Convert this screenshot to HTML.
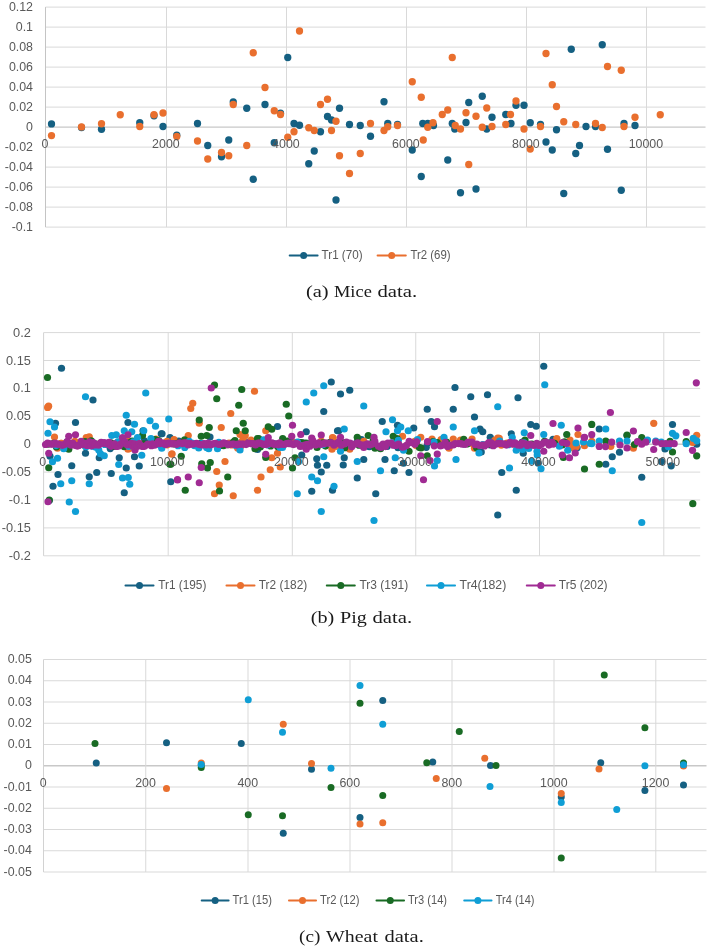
<!DOCTYPE html>
<html><head><meta charset="utf-8"><title>Scatter charts</title>
<style>
html,body{margin:0;padding:0;background:#fff;}
svg{display:block;}
.s{font-family:"Liberation Sans",Arial,sans-serif;}
.r{font-family:"Liberation Serif","Times New Roman",serif;}
</style></head><body>
<svg width="708" height="948" viewBox="0 0 708 948">
<rect width="708" height="948" fill="#fff"/>
<line x1="45.5" y1="7.1" x2="705.5" y2="7.1" stroke="#D9D9D9" stroke-width="1"/>
<line x1="45.5" y1="27.1" x2="705.5" y2="27.1" stroke="#D9D9D9" stroke-width="1"/>
<line x1="45.5" y1="47.1" x2="705.5" y2="47.1" stroke="#D9D9D9" stroke-width="1"/>
<line x1="45.5" y1="67.1" x2="705.5" y2="67.1" stroke="#D9D9D9" stroke-width="1"/>
<line x1="45.5" y1="87.1" x2="705.5" y2="87.1" stroke="#D9D9D9" stroke-width="1"/>
<line x1="45.5" y1="107.1" x2="705.5" y2="107.1" stroke="#D9D9D9" stroke-width="1"/>
<line x1="45.5" y1="127.1" x2="705.5" y2="127.1" stroke="#C8C8C8" stroke-width="1.4"/>
<line x1="45.5" y1="147.1" x2="705.5" y2="147.1" stroke="#D9D9D9" stroke-width="1"/>
<line x1="45.5" y1="167.1" x2="705.5" y2="167.1" stroke="#D9D9D9" stroke-width="1"/>
<line x1="45.5" y1="187.1" x2="705.5" y2="187.1" stroke="#D9D9D9" stroke-width="1"/>
<line x1="45.5" y1="207.1" x2="705.5" y2="207.1" stroke="#D9D9D9" stroke-width="1"/>
<line x1="45.5" y1="227.1" x2="705.5" y2="227.1" stroke="#D9D9D9" stroke-width="1"/>
<line x1="166.5" y1="7.1" x2="166.5" y2="227.1" stroke="#D9D9D9" stroke-width="1"/>
<line x1="286.5" y1="7.1" x2="286.5" y2="227.1" stroke="#D9D9D9" stroke-width="1"/>
<line x1="406.5" y1="7.1" x2="406.5" y2="227.1" stroke="#D9D9D9" stroke-width="1"/>
<line x1="526.5" y1="7.1" x2="526.5" y2="227.1" stroke="#D9D9D9" stroke-width="1"/>
<line x1="646.5" y1="7.1" x2="646.5" y2="227.1" stroke="#D9D9D9" stroke-width="1"/>
<line x1="45.5" y1="7.1" x2="45.5" y2="227.1" stroke="#C4C4C4" stroke-width="1"/>
<text class="s" x="33.0" y="10.8" text-anchor="end" font-size="12.4" fill="#595959">0.12</text>
<text class="s" x="33.0" y="30.8" text-anchor="end" font-size="12.4" fill="#595959">0.1</text>
<text class="s" x="33.0" y="50.800000000000004" text-anchor="end" font-size="12.4" fill="#595959">0.08</text>
<text class="s" x="33.0" y="70.8" text-anchor="end" font-size="12.4" fill="#595959">0.06</text>
<text class="s" x="33.0" y="90.8" text-anchor="end" font-size="12.4" fill="#595959">0.04</text>
<text class="s" x="33.0" y="110.8" text-anchor="end" font-size="12.4" fill="#595959">0.02</text>
<text class="s" x="33.0" y="130.79999999999998" text-anchor="end" font-size="12.4" fill="#595959">0</text>
<text class="s" x="33.0" y="150.79999999999998" text-anchor="end" font-size="12.4" fill="#595959">-0.02</text>
<text class="s" x="33.0" y="170.79999999999998" text-anchor="end" font-size="12.4" fill="#595959">-0.04</text>
<text class="s" x="33.0" y="190.79999999999998" text-anchor="end" font-size="12.4" fill="#595959">-0.06</text>
<text class="s" x="33.0" y="210.79999999999998" text-anchor="end" font-size="12.4" fill="#595959">-0.08</text>
<text class="s" x="33.0" y="230.79999999999998" text-anchor="end" font-size="12.4" fill="#595959">-0.1</text>
<g fill="#156082"><circle cx="51.50" cy="123.90" r="3.65"/><circle cx="81.50" cy="127.50" r="3.65"/><circle cx="101.50" cy="129.25" r="3.65"/><circle cx="139.75" cy="122.75" r="3.65"/><circle cx="154.00" cy="115.75" r="3.65"/><circle cx="163.00" cy="126.50" r="3.65"/><circle cx="176.75" cy="135.25" r="3.65"/><circle cx="197.50" cy="123.50" r="3.65"/><circle cx="207.75" cy="145.50" r="3.65"/><circle cx="221.50" cy="156.75" r="3.65"/><circle cx="228.75" cy="140.00" r="3.65"/><circle cx="233.25" cy="102.00" r="3.65"/><circle cx="246.75" cy="108.25" r="3.65"/><circle cx="253.25" cy="179.25" r="3.65"/><circle cx="265.00" cy="104.50" r="3.65"/><circle cx="274.25" cy="142.75" r="3.65"/><circle cx="280.50" cy="113.25" r="3.65"/><circle cx="287.75" cy="57.50" r="3.65"/><circle cx="294.00" cy="123.50" r="3.65"/><circle cx="299.50" cy="125.25" r="3.65"/><circle cx="308.75" cy="163.75" r="3.65"/><circle cx="314.25" cy="151.00" r="3.65"/><circle cx="320.50" cy="131.75" r="3.65"/><circle cx="327.50" cy="116.50" r="3.65"/><circle cx="331.50" cy="120.00" r="3.65"/><circle cx="336.00" cy="200.00" r="3.65"/><circle cx="339.50" cy="108.25" r="3.65"/><circle cx="349.50" cy="124.50" r="3.65"/><circle cx="360.25" cy="125.50" r="3.65"/><circle cx="370.50" cy="136.25" r="3.65"/><circle cx="384.00" cy="101.75" r="3.65"/><circle cx="387.75" cy="123.50" r="3.65"/><circle cx="397.50" cy="124.50" r="3.65"/><circle cx="412.25" cy="150.00" r="3.65"/><circle cx="421.25" cy="176.50" r="3.65"/><circle cx="422.75" cy="123.50" r="3.65"/><circle cx="427.75" cy="123.50" r="3.65"/><circle cx="433.50" cy="125.50" r="3.65"/><circle cx="447.75" cy="160.00" r="3.65"/><circle cx="452.25" cy="123.50" r="3.65"/><circle cx="454.75" cy="129.00" r="3.65"/><circle cx="460.50" cy="192.75" r="3.65"/><circle cx="466.00" cy="122.50" r="3.65"/><circle cx="468.75" cy="102.50" r="3.65"/><circle cx="476.00" cy="189.00" r="3.65"/><circle cx="482.25" cy="96.25" r="3.65"/><circle cx="486.75" cy="129.00" r="3.65"/><circle cx="492.00" cy="117.25" r="3.65"/><circle cx="505.75" cy="114.50" r="3.65"/><circle cx="511.00" cy="123.50" r="3.65"/><circle cx="516.00" cy="105.25" r="3.65"/><circle cx="524.00" cy="105.25" r="3.65"/><circle cx="530.25" cy="122.75" r="3.65"/><circle cx="540.50" cy="124.50" r="3.65"/><circle cx="546.00" cy="142.00" r="3.65"/><circle cx="552.25" cy="150.00" r="3.65"/><circle cx="556.50" cy="129.75" r="3.65"/><circle cx="563.75" cy="193.50" r="3.65"/><circle cx="571.25" cy="49.25" r="3.65"/><circle cx="575.75" cy="153.50" r="3.65"/><circle cx="579.50" cy="145.50" r="3.65"/><circle cx="586.00" cy="126.50" r="3.65"/><circle cx="595.50" cy="126.50" r="3.65"/><circle cx="602.25" cy="44.75" r="3.65"/><circle cx="607.50" cy="149.25" r="3.65"/><circle cx="621.25" cy="190.25" r="3.65"/><circle cx="624.00" cy="123.50" r="3.65"/><circle cx="635.00" cy="125.50" r="3.65"/></g>
<g fill="#E96F2E"><circle cx="51.50" cy="135.60" r="3.65"/><circle cx="81.50" cy="126.90" r="3.65"/><circle cx="101.50" cy="123.75" r="3.65"/><circle cx="120.25" cy="114.75" r="3.65"/><circle cx="139.75" cy="126.50" r="3.65"/><circle cx="154.00" cy="114.75" r="3.65"/><circle cx="163.00" cy="113.00" r="3.65"/><circle cx="176.75" cy="136.50" r="3.65"/><circle cx="197.50" cy="141.00" r="3.65"/><circle cx="207.75" cy="159.00" r="3.65"/><circle cx="221.50" cy="152.50" r="3.65"/><circle cx="228.75" cy="155.75" r="3.65"/><circle cx="233.25" cy="104.50" r="3.65"/><circle cx="246.75" cy="145.50" r="3.65"/><circle cx="253.25" cy="52.75" r="3.65"/><circle cx="265.00" cy="87.50" r="3.65"/><circle cx="274.25" cy="110.75" r="3.65"/><circle cx="280.50" cy="114.50" r="3.65"/><circle cx="287.75" cy="137.25" r="3.65"/><circle cx="294.00" cy="131.75" r="3.65"/><circle cx="299.50" cy="31.00" r="3.65"/><circle cx="308.75" cy="127.75" r="3.65"/><circle cx="314.25" cy="130.50" r="3.65"/><circle cx="320.50" cy="104.50" r="3.65"/><circle cx="327.50" cy="99.25" r="3.65"/><circle cx="331.50" cy="130.50" r="3.65"/><circle cx="336.00" cy="121.25" r="3.65"/><circle cx="339.50" cy="155.75" r="3.65"/><circle cx="349.50" cy="173.50" r="3.65"/><circle cx="360.25" cy="153.50" r="3.65"/><circle cx="370.50" cy="123.50" r="3.65"/><circle cx="384.00" cy="130.50" r="3.65"/><circle cx="387.75" cy="126.75" r="3.65"/><circle cx="397.50" cy="125.50" r="3.65"/><circle cx="412.25" cy="81.75" r="3.65"/><circle cx="421.25" cy="97.25" r="3.65"/><circle cx="423.25" cy="140.00" r="3.65"/><circle cx="427.75" cy="127.25" r="3.65"/><circle cx="433.00" cy="122.75" r="3.65"/><circle cx="442.25" cy="114.50" r="3.65"/><circle cx="447.75" cy="110.00" r="3.65"/><circle cx="452.25" cy="57.50" r="3.65"/><circle cx="455.25" cy="125.50" r="3.65"/><circle cx="460.50" cy="129.00" r="3.65"/><circle cx="466.00" cy="112.75" r="3.65"/><circle cx="468.75" cy="164.50" r="3.65"/><circle cx="476.00" cy="116.25" r="3.65"/><circle cx="482.25" cy="127.25" r="3.65"/><circle cx="486.75" cy="108.00" r="3.65"/><circle cx="492.00" cy="126.50" r="3.65"/><circle cx="505.75" cy="124.50" r="3.65"/><circle cx="510.50" cy="114.50" r="3.65"/><circle cx="516.00" cy="101.00" r="3.65"/><circle cx="524.00" cy="129.00" r="3.65"/><circle cx="530.25" cy="149.00" r="3.65"/><circle cx="540.50" cy="126.50" r="3.65"/><circle cx="546.00" cy="53.50" r="3.65"/><circle cx="552.25" cy="84.75" r="3.65"/><circle cx="556.50" cy="106.50" r="3.65"/><circle cx="563.75" cy="121.75" r="3.65"/><circle cx="575.75" cy="124.50" r="3.65"/><circle cx="595.50" cy="123.50" r="3.65"/><circle cx="602.25" cy="127.50" r="3.65"/><circle cx="607.50" cy="66.50" r="3.65"/><circle cx="621.25" cy="70.25" r="3.65"/><circle cx="624.00" cy="126.50" r="3.65"/><circle cx="635.00" cy="117.25" r="3.65"/><circle cx="660.25" cy="114.75" r="3.65"/></g>
<text class="s" x="44.9" y="148.4" text-anchor="middle" font-size="12.4" fill="#595959">0</text>
<text class="s" x="165.9" y="148.4" text-anchor="middle" font-size="12.4" fill="#595959">2000</text>
<text class="s" x="285.9" y="148.4" text-anchor="middle" font-size="12.4" fill="#595959">4000</text>
<text class="s" x="405.9" y="148.4" text-anchor="middle" font-size="12.4" fill="#595959">6000</text>
<text class="s" x="525.9" y="148.4" text-anchor="middle" font-size="12.4" fill="#595959">8000</text>
<text class="s" x="645.9" y="148.4" text-anchor="middle" font-size="12.4" fill="#595959">10000</text>
<line x1="289.59999999999997" y1="255.5" x2="317.70000000000005" y2="255.5" stroke="#156082" stroke-width="1.8" stroke-linecap="round"/>
<circle cx="303.65" cy="255.5" r="3.5" fill="#156082"/>
<text class="s" x="321.6" y="258.9" text-anchor="start" font-size="12.4" fill="#595959" textLength="41.0" lengthAdjust="spacingAndGlyphs">Tr1 (70)</text>
<line x1="377.5" y1="255.5" x2="405.90000000000003" y2="255.5" stroke="#E96F2E" stroke-width="1.8" stroke-linecap="round"/>
<circle cx="391.70000000000005" cy="255.5" r="3.5" fill="#E96F2E"/>
<text class="s" x="410.4" y="258.9" text-anchor="start" font-size="12.4" fill="#595959" textLength="40.2" lengthAdjust="spacingAndGlyphs">Tr2 (69)</text>
<text class="r" y="296.9" font-size="17" fill="#1a1a1a"><tspan x="305.9" textLength="22.7" lengthAdjust="spacingAndGlyphs">(a)</tspan> <tspan x="334.0" textLength="37.8" lengthAdjust="spacingAndGlyphs">Mice</tspan> <tspan x="377.5" textLength="39.7" lengthAdjust="spacingAndGlyphs">data.</tspan></text>
<line x1="43.6" y1="332.6" x2="700.2" y2="332.6" stroke="#D9D9D9" stroke-width="1"/>
<line x1="43.6" y1="360.5" x2="700.2" y2="360.5" stroke="#D9D9D9" stroke-width="1"/>
<line x1="43.6" y1="388.4" x2="700.2" y2="388.4" stroke="#D9D9D9" stroke-width="1"/>
<line x1="43.6" y1="416.3" x2="700.2" y2="416.3" stroke="#D9D9D9" stroke-width="1"/>
<line x1="43.6" y1="444.2" x2="700.2" y2="444.2" stroke="#C8C8C8" stroke-width="1.4"/>
<line x1="43.6" y1="472.1" x2="700.2" y2="472.1" stroke="#D9D9D9" stroke-width="1"/>
<line x1="43.6" y1="500.0" x2="700.2" y2="500.0" stroke="#D9D9D9" stroke-width="1"/>
<line x1="43.6" y1="527.9" x2="700.2" y2="527.9" stroke="#D9D9D9" stroke-width="1"/>
<line x1="43.6" y1="555.8" x2="700.2" y2="555.8" stroke="#D9D9D9" stroke-width="1"/>
<line x1="168.2" y1="332.6" x2="168.2" y2="555.8" stroke="#D9D9D9" stroke-width="1"/>
<line x1="292.3" y1="332.6" x2="292.3" y2="555.8" stroke="#D9D9D9" stroke-width="1"/>
<line x1="415.75" y1="332.6" x2="415.75" y2="555.8" stroke="#D9D9D9" stroke-width="1"/>
<line x1="539.5" y1="332.6" x2="539.5" y2="555.8" stroke="#D9D9D9" stroke-width="1"/>
<line x1="663.8" y1="332.6" x2="663.8" y2="555.8" stroke="#D9D9D9" stroke-width="1"/>
<line x1="43.6" y1="332.6" x2="43.6" y2="555.8" stroke="#D2D2D2" stroke-width="1"/>
<text class="s" x="30.9" y="336.6" text-anchor="end" font-size="12.8" fill="#595959">0.2</text>
<text class="s" x="30.9" y="364.5" text-anchor="end" font-size="12.8" fill="#595959">0.15</text>
<text class="s" x="30.9" y="392.4" text-anchor="end" font-size="12.8" fill="#595959">0.1</text>
<text class="s" x="30.9" y="420.3" text-anchor="end" font-size="12.8" fill="#595959">0.05</text>
<text class="s" x="30.9" y="448.2" text-anchor="end" font-size="12.8" fill="#595959">0</text>
<text class="s" x="30.9" y="476.1" text-anchor="end" font-size="12.8" fill="#595959">-0.05</text>
<text class="s" x="30.9" y="504.0" text-anchor="end" font-size="12.8" fill="#595959">-0.1</text>
<text class="s" x="30.9" y="531.9" text-anchor="end" font-size="12.8" fill="#595959">-0.15</text>
<text class="s" x="30.9" y="559.8" text-anchor="end" font-size="12.8" fill="#595959">-0.2</text>
<g fill="#156082"><circle cx="61.50" cy="368.25" r="3.6"/><circle cx="93.00" cy="400.00" r="3.6"/><circle cx="55.50" cy="423.25" r="3.6"/><circle cx="75.50" cy="422.50" r="3.6"/><circle cx="128.00" cy="422.50" r="3.6"/><circle cx="161.25" cy="433.75" r="3.6"/><circle cx="85.50" cy="453.25" r="3.6"/><circle cx="99.25" cy="457.75" r="3.6"/><circle cx="119.25" cy="457.75" r="3.6"/><circle cx="134.50" cy="456.75" r="3.6"/><circle cx="50.00" cy="456.25" r="3.6"/><circle cx="71.75" cy="465.75" r="3.6"/><circle cx="58.00" cy="474.50" r="3.6"/><circle cx="89.25" cy="476.75" r="3.6"/><circle cx="96.75" cy="472.50" r="3.6"/><circle cx="111.25" cy="473.50" r="3.6"/><circle cx="126.25" cy="468.00" r="3.6"/><circle cx="139.25" cy="466.00" r="3.6"/><circle cx="53.00" cy="486.25" r="3.6"/><circle cx="124.25" cy="492.75" r="3.6"/><circle cx="170.75" cy="481.75" r="3.6"/><circle cx="49.25" cy="500.50" r="3.6"/><circle cx="143.00" cy="430.75" r="3.6"/><circle cx="331.25" cy="382.00" r="3.6"/><circle cx="323.75" cy="411.50" r="3.6"/><circle cx="277.50" cy="426.50" r="3.6"/><circle cx="306.25" cy="431.75" r="3.6"/><circle cx="162.00" cy="433.75" r="3.6"/><circle cx="170.00" cy="437.50" r="3.6"/><circle cx="301.75" cy="455.00" r="3.6"/><circle cx="316.75" cy="458.75" r="3.6"/><circle cx="317.50" cy="465.25" r="3.6"/><circle cx="321.25" cy="472.00" r="3.6"/><circle cx="326.75" cy="465.25" r="3.6"/><circle cx="311.75" cy="491.25" r="3.6"/><circle cx="332.50" cy="490.25" r="3.6"/><circle cx="337.50" cy="430.75" r="3.6"/><circle cx="210.00" cy="437.00" r="3.6"/><circle cx="257.50" cy="449.50" r="3.6"/><circle cx="340.50" cy="394.00" r="3.6"/><circle cx="349.75" cy="390.25" r="3.6"/><circle cx="382.25" cy="421.50" r="3.6"/><circle cx="397.50" cy="425.25" r="3.6"/><circle cx="413.75" cy="428.00" r="3.6"/><circle cx="427.25" cy="409.25" r="3.6"/><circle cx="431.25" cy="421.50" r="3.6"/><circle cx="434.50" cy="426.75" r="3.6"/><circle cx="453.25" cy="409.25" r="3.6"/><circle cx="455.00" cy="387.50" r="3.6"/><circle cx="470.75" cy="396.75" r="3.6"/><circle cx="474.50" cy="417.00" r="3.6"/><circle cx="487.50" cy="394.75" r="3.6"/><circle cx="480.00" cy="429.00" r="3.6"/><circle cx="482.75" cy="431.75" r="3.6"/><circle cx="490.25" cy="437.25" r="3.6"/><circle cx="338.75" cy="430.75" r="3.6"/><circle cx="344.25" cy="457.75" r="3.6"/><circle cx="343.25" cy="465.00" r="3.6"/><circle cx="363.75" cy="459.50" r="3.6"/><circle cx="385.00" cy="459.50" r="3.6"/><circle cx="357.25" cy="478.00" r="3.6"/><circle cx="394.25" cy="470.75" r="3.6"/><circle cx="403.50" cy="463.25" r="3.6"/><circle cx="409.00" cy="472.50" r="3.6"/><circle cx="375.75" cy="493.75" r="3.6"/><circle cx="497.75" cy="515.00" r="3.6"/><circle cx="501.75" cy="472.50" r="3.6"/><circle cx="481.25" cy="452.00" r="3.6"/><circle cx="543.75" cy="366.25" r="3.6"/><circle cx="518.00" cy="397.75" r="3.6"/><circle cx="530.75" cy="424.50" r="3.6"/><circle cx="536.25" cy="426.25" r="3.6"/><circle cx="599.25" cy="429.00" r="3.6"/><circle cx="511.25" cy="433.75" r="3.6"/><circle cx="627.00" cy="435.50" r="3.6"/><circle cx="553.00" cy="439.25" r="3.6"/><circle cx="516.25" cy="490.25" r="3.6"/><circle cx="538.25" cy="463.25" r="3.6"/><circle cx="523.25" cy="453.25" r="3.6"/><circle cx="612.25" cy="456.75" r="3.6"/><circle cx="619.50" cy="452.25" r="3.6"/><circle cx="605.75" cy="464.25" r="3.6"/><circle cx="641.75" cy="477.25" r="3.6"/><circle cx="661.50" cy="461.60" r="3.6"/><circle cx="665.00" cy="449.00" r="3.6"/><circle cx="672.50" cy="424.50" r="3.6"/><circle cx="671.20" cy="465.80" r="3.6"/><circle cx="696.70" cy="444.20" r="3.6"/><circle cx="222.17" cy="445.46" r="3.6"/><circle cx="85.41" cy="446.19" r="3.6"/><circle cx="337.52" cy="443.09" r="3.6"/><circle cx="322.05" cy="444.17" r="3.6"/><circle cx="66.40" cy="442.83" r="3.6"/><circle cx="95.35" cy="443.94" r="3.6"/><circle cx="276.94" cy="444.13" r="3.6"/><circle cx="167.44" cy="442.60" r="3.6"/><circle cx="387.32" cy="446.33" r="3.6"/><circle cx="261.79" cy="442.67" r="3.6"/><circle cx="577.08" cy="447.77" r="3.6"/><circle cx="203.55" cy="444.86" r="3.6"/><circle cx="124.47" cy="445.00" r="3.6"/><circle cx="489.97" cy="444.87" r="3.6"/><circle cx="144.32" cy="440.86" r="3.6"/><circle cx="248.58" cy="442.06" r="3.6"/><circle cx="343.97" cy="444.31" r="3.6"/><circle cx="158.04" cy="443.90" r="3.6"/><circle cx="416.14" cy="441.88" r="3.6"/><circle cx="364.55" cy="444.44" r="3.6"/><circle cx="292.53" cy="442.40" r="3.6"/><circle cx="426.25" cy="447.32" r="3.6"/><circle cx="178.79" cy="441.20" r="3.6"/><circle cx="522.07" cy="442.39" r="3.6"/><circle cx="442.82" cy="442.15" r="3.6"/><circle cx="110.23" cy="448.60" r="3.6"/><circle cx="273.46" cy="443.66" r="3.6"/><circle cx="312.00" cy="442.34" r="3.6"/><circle cx="67.33" cy="441.76" r="3.6"/><circle cx="357.73" cy="440.34" r="3.6"/><circle cx="522.26" cy="442.28" r="3.6"/><circle cx="369.34" cy="446.72" r="3.6"/><circle cx="361.46" cy="439.55" r="3.6"/><circle cx="559.91" cy="444.74" r="3.6"/><circle cx="303.91" cy="443.20" r="3.6"/><circle cx="427.61" cy="442.93" r="3.6"/><circle cx="398.04" cy="447.68" r="3.6"/><circle cx="200.82" cy="443.42" r="3.6"/><circle cx="255.87" cy="443.37" r="3.6"/><circle cx="297.16" cy="443.19" r="3.6"/><circle cx="137.42" cy="444.17" r="3.6"/><circle cx="463.92" cy="444.11" r="3.6"/><circle cx="116.36" cy="443.63" r="3.6"/><circle cx="520.05" cy="445.79" r="3.6"/><circle cx="89.84" cy="440.96" r="3.6"/></g>
<g fill="#E96F2E"><circle cx="47.60" cy="407.40" r="3.6"/><circle cx="48.60" cy="406.20" r="3.6"/><circle cx="54.50" cy="437.00" r="3.6"/><circle cx="86.25" cy="437.50" r="3.6"/><circle cx="89.25" cy="436.75" r="3.6"/><circle cx="57.50" cy="448.25" r="3.6"/><circle cx="128.00" cy="449.25" r="3.6"/><circle cx="172.00" cy="453.75" r="3.6"/><circle cx="115.00" cy="444.00" r="3.6"/><circle cx="156.00" cy="439.00" r="3.6"/><circle cx="254.50" cy="391.25" r="3.6"/><circle cx="192.75" cy="403.25" r="3.6"/><circle cx="190.75" cy="408.50" r="3.6"/><circle cx="230.75" cy="413.50" r="3.6"/><circle cx="199.25" cy="423.25" r="3.6"/><circle cx="221.25" cy="427.50" r="3.6"/><circle cx="265.75" cy="430.75" r="3.6"/><circle cx="188.25" cy="435.50" r="3.6"/><circle cx="240.00" cy="434.50" r="3.6"/><circle cx="245.25" cy="435.50" r="3.6"/><circle cx="171.75" cy="454.25" r="3.6"/><circle cx="225.00" cy="461.50" r="3.6"/><circle cx="216.75" cy="471.50" r="3.6"/><circle cx="219.25" cy="485.00" r="3.6"/><circle cx="214.50" cy="493.75" r="3.6"/><circle cx="233.25" cy="495.75" r="3.6"/><circle cx="257.50" cy="490.25" r="3.6"/><circle cx="261.00" cy="477.00" r="3.6"/><circle cx="270.25" cy="469.75" r="3.6"/><circle cx="280.25" cy="467.00" r="3.6"/><circle cx="277.50" cy="453.25" r="3.6"/><circle cx="271.75" cy="457.75" r="3.6"/><circle cx="332.50" cy="437.50" r="3.6"/><circle cx="332.00" cy="449.25" r="3.6"/><circle cx="174.00" cy="439.50" r="3.6"/><circle cx="251.00" cy="440.00" r="3.6"/><circle cx="333.25" cy="438.00" r="3.6"/><circle cx="349.75" cy="449.25" r="3.6"/><circle cx="402.50" cy="436.25" r="3.6"/><circle cx="420.75" cy="437.25" r="3.6"/><circle cx="432.00" cy="439.00" r="3.6"/><circle cx="453.25" cy="439.00" r="3.6"/><circle cx="460.50" cy="440.00" r="3.6"/><circle cx="449.00" cy="448.25" r="3.6"/><circle cx="497.75" cy="438.00" r="3.6"/><circle cx="474.50" cy="448.25" r="3.6"/><circle cx="363.75" cy="441.25" r="3.6"/><circle cx="653.75" cy="423.30" r="3.6"/><circle cx="578.00" cy="434.50" r="3.6"/><circle cx="499.25" cy="438.25" r="3.6"/><circle cx="584.50" cy="445.75" r="3.6"/><circle cx="591.75" cy="441.30" r="3.6"/><circle cx="633.40" cy="448.20" r="3.6"/><circle cx="570.00" cy="440.00" r="3.6"/><circle cx="696.70" cy="435.30" r="3.6"/><circle cx="610.80" cy="446.30" r="3.6"/><circle cx="692.50" cy="442.50" r="3.6"/><circle cx="517.73" cy="444.51" r="3.6"/><circle cx="483.50" cy="444.82" r="3.6"/><circle cx="267.77" cy="442.20" r="3.6"/><circle cx="237.58" cy="447.92" r="3.6"/><circle cx="126.59" cy="439.75" r="3.6"/><circle cx="140.10" cy="443.79" r="3.6"/><circle cx="304.97" cy="445.27" r="3.6"/><circle cx="360.59" cy="443.58" r="3.6"/><circle cx="269.72" cy="443.81" r="3.6"/><circle cx="243.18" cy="438.60" r="3.6"/><circle cx="414.72" cy="441.30" r="3.6"/><circle cx="321.27" cy="441.05" r="3.6"/><circle cx="74.83" cy="441.27" r="3.6"/><circle cx="526.35" cy="444.48" r="3.6"/><circle cx="472.06" cy="439.00" r="3.6"/><circle cx="255.53" cy="442.73" r="3.6"/><circle cx="384.71" cy="444.24" r="3.6"/><circle cx="79.24" cy="445.04" r="3.6"/><circle cx="132.67" cy="444.25" r="3.6"/><circle cx="227.59" cy="443.65" r="3.6"/><circle cx="126.78" cy="443.62" r="3.6"/><circle cx="100.18" cy="443.26" r="3.6"/><circle cx="512.89" cy="444.00" r="3.6"/><circle cx="373.91" cy="444.64" r="3.6"/><circle cx="231.51" cy="445.01" r="3.6"/><circle cx="240.46" cy="446.80" r="3.6"/><circle cx="576.32" cy="446.72" r="3.6"/><circle cx="294.84" cy="442.63" r="3.6"/><circle cx="100.57" cy="443.70" r="3.6"/><circle cx="228.97" cy="443.20" r="3.6"/><circle cx="132.21" cy="447.90" r="3.6"/><circle cx="58.33" cy="446.29" r="3.6"/><circle cx="124.29" cy="442.75" r="3.6"/><circle cx="336.05" cy="446.38" r="3.6"/><circle cx="568.52" cy="444.08" r="3.6"/><circle cx="507.02" cy="443.01" r="3.6"/><circle cx="241.82" cy="441.91" r="3.6"/><circle cx="135.20" cy="443.99" r="3.6"/><circle cx="462.02" cy="440.79" r="3.6"/><circle cx="222.04" cy="444.31" r="3.6"/><circle cx="571.95" cy="447.74" r="3.6"/><circle cx="501.30" cy="445.07" r="3.6"/><circle cx="441.09" cy="439.61" r="3.6"/><circle cx="167.08" cy="441.46" r="3.6"/><circle cx="61.48" cy="443.36" r="3.6"/><circle cx="60.92" cy="443.27" r="3.6"/><circle cx="415.81" cy="445.35" r="3.6"/><circle cx="556.78" cy="438.60" r="3.6"/><circle cx="573.61" cy="445.36" r="3.6"/><circle cx="555.97" cy="442.53" r="3.6"/><circle cx="167.14" cy="444.82" r="3.6"/><circle cx="151.04" cy="444.51" r="3.6"/><circle cx="526.76" cy="446.69" r="3.6"/><circle cx="494.79" cy="440.28" r="3.6"/><circle cx="473.01" cy="444.03" r="3.6"/></g>
<g fill="#196B24"><circle cx="47.50" cy="377.50" r="3.6"/><circle cx="48.75" cy="467.75" r="3.6"/><circle cx="49.25" cy="500.00" r="3.6"/><circle cx="170.75" cy="464.25" r="3.6"/><circle cx="142.50" cy="435.50" r="3.6"/><circle cx="68.75" cy="449.25" r="3.6"/><circle cx="155.00" cy="439.50" r="3.6"/><circle cx="214.50" cy="385.00" r="3.6"/><circle cx="241.75" cy="389.50" r="3.6"/><circle cx="216.75" cy="398.75" r="3.6"/><circle cx="238.75" cy="405.25" r="3.6"/><circle cx="286.25" cy="404.25" r="3.6"/><circle cx="288.75" cy="416.00" r="3.6"/><circle cx="199.25" cy="420.00" r="3.6"/><circle cx="209.25" cy="427.50" r="3.6"/><circle cx="243.25" cy="423.25" r="3.6"/><circle cx="236.25" cy="430.75" r="3.6"/><circle cx="245.25" cy="430.75" r="3.6"/><circle cx="268.25" cy="426.75" r="3.6"/><circle cx="271.75" cy="429.25" r="3.6"/><circle cx="201.25" cy="436.25" r="3.6"/><circle cx="206.75" cy="435.50" r="3.6"/><circle cx="181.25" cy="456.25" r="3.6"/><circle cx="170.00" cy="464.25" r="3.6"/><circle cx="201.75" cy="463.75" r="3.6"/><circle cx="210.25" cy="462.50" r="3.6"/><circle cx="207.50" cy="468.00" r="3.6"/><circle cx="227.75" cy="477.00" r="3.6"/><circle cx="185.25" cy="490.25" r="3.6"/><circle cx="219.50" cy="491.00" r="3.6"/><circle cx="292.50" cy="468.00" r="3.6"/><circle cx="295.00" cy="457.75" r="3.6"/><circle cx="265.75" cy="457.50" r="3.6"/><circle cx="301.75" cy="442.50" r="3.6"/><circle cx="306.25" cy="443.00" r="3.6"/><circle cx="255.00" cy="448.75" r="3.6"/><circle cx="357.25" cy="437.25" r="3.6"/><circle cx="368.25" cy="435.50" r="3.6"/><circle cx="393.25" cy="436.25" r="3.6"/><circle cx="375.00" cy="448.25" r="3.6"/><circle cx="380.50" cy="448.75" r="3.6"/><circle cx="409.00" cy="451.25" r="3.6"/><circle cx="427.25" cy="455.75" r="3.6"/><circle cx="437.25" cy="442.50" r="3.6"/><circle cx="421.00" cy="448.00" r="3.6"/><circle cx="591.75" cy="424.40" r="3.6"/><circle cx="566.75" cy="434.50" r="3.6"/><circle cx="584.50" cy="469.00" r="3.6"/><circle cx="599.25" cy="464.25" r="3.6"/><circle cx="562.25" cy="445.00" r="3.6"/><circle cx="605.75" cy="441.00" r="3.6"/><circle cx="641.75" cy="437.70" r="3.6"/><circle cx="634.50" cy="444.50" r="3.6"/><circle cx="627.00" cy="435.00" r="3.6"/><circle cx="672.50" cy="452.00" r="3.6"/><circle cx="696.70" cy="455.80" r="3.6"/><circle cx="692.80" cy="503.70" r="3.6"/><circle cx="686.20" cy="441.70" r="3.6"/><circle cx="670.00" cy="441.30" r="3.6"/><circle cx="91.27" cy="440.91" r="3.6"/><circle cx="463.75" cy="439.33" r="3.6"/><circle cx="446.58" cy="442.17" r="3.6"/><circle cx="467.40" cy="443.80" r="3.6"/><circle cx="223.56" cy="445.53" r="3.6"/><circle cx="257.38" cy="438.60" r="3.6"/><circle cx="260.34" cy="447.09" r="3.6"/><circle cx="136.78" cy="442.39" r="3.6"/><circle cx="113.84" cy="446.50" r="3.6"/><circle cx="476.67" cy="447.66" r="3.6"/><circle cx="124.06" cy="446.58" r="3.6"/><circle cx="396.98" cy="438.60" r="3.6"/><circle cx="233.12" cy="442.44" r="3.6"/><circle cx="53.61" cy="443.23" r="3.6"/><circle cx="564.46" cy="441.94" r="3.6"/><circle cx="544.56" cy="441.33" r="3.6"/><circle cx="277.65" cy="446.58" r="3.6"/><circle cx="158.70" cy="440.50" r="3.6"/><circle cx="180.48" cy="443.14" r="3.6"/><circle cx="359.16" cy="445.24" r="3.6"/><circle cx="184.50" cy="442.54" r="3.6"/><circle cx="531.95" cy="444.19" r="3.6"/><circle cx="234.92" cy="440.66" r="3.6"/><circle cx="528.89" cy="444.39" r="3.6"/><circle cx="270.62" cy="445.96" r="3.6"/><circle cx="329.99" cy="442.26" r="3.6"/><circle cx="325.55" cy="446.06" r="3.6"/><circle cx="143.78" cy="443.89" r="3.6"/><circle cx="48.10" cy="444.03" r="3.6"/><circle cx="298.85" cy="442.25" r="3.6"/><circle cx="433.25" cy="441.68" r="3.6"/><circle cx="322.80" cy="442.89" r="3.6"/><circle cx="342.61" cy="443.83" r="3.6"/><circle cx="345.20" cy="442.54" r="3.6"/><circle cx="178.70" cy="442.93" r="3.6"/><circle cx="317.12" cy="447.50" r="3.6"/><circle cx="345.96" cy="443.92" r="3.6"/><circle cx="282.69" cy="438.60" r="3.6"/><circle cx="373.09" cy="440.85" r="3.6"/><circle cx="415.92" cy="443.50" r="3.6"/><circle cx="287.55" cy="441.03" r="3.6"/><circle cx="548.76" cy="443.06" r="3.6"/><circle cx="419.38" cy="447.52" r="3.6"/><circle cx="184.62" cy="439.75" r="3.6"/><circle cx="344.78" cy="447.73" r="3.6"/><circle cx="119.23" cy="442.06" r="3.6"/><circle cx="110.95" cy="442.77" r="3.6"/><circle cx="174.50" cy="443.92" r="3.6"/><circle cx="85.05" cy="441.65" r="3.6"/><circle cx="525.01" cy="440.08" r="3.6"/><circle cx="128.47" cy="442.89" r="3.6"/><circle cx="122.35" cy="440.30" r="3.6"/><circle cx="517.43" cy="445.19" r="3.6"/><circle cx="554.64" cy="443.27" r="3.6"/><circle cx="258.67" cy="438.60" r="3.6"/><circle cx="490.53" cy="444.16" r="3.6"/><circle cx="132.22" cy="441.08" r="3.6"/><circle cx="227.09" cy="444.76" r="3.6"/><circle cx="150.53" cy="442.06" r="3.6"/><circle cx="56.40" cy="446.95" r="3.6"/><circle cx="341.86" cy="443.19" r="3.6"/><circle cx="223.02" cy="443.76" r="3.6"/><circle cx="563.40" cy="457.50" r="3.6"/></g>
<g fill="#0F9ED5"><circle cx="85.50" cy="396.75" r="3.6"/><circle cx="145.75" cy="393.00" r="3.6"/><circle cx="126.25" cy="415.25" r="3.6"/><circle cx="50.00" cy="421.75" r="3.6"/><circle cx="54.50" cy="427.00" r="3.6"/><circle cx="134.50" cy="424.25" r="3.6"/><circle cx="150.00" cy="420.75" r="3.6"/><circle cx="155.50" cy="426.25" r="3.6"/><circle cx="168.75" cy="419.00" r="3.6"/><circle cx="48.00" cy="433.25" r="3.6"/><circle cx="124.25" cy="430.75" r="3.6"/><circle cx="131.75" cy="431.75" r="3.6"/><circle cx="143.75" cy="430.75" r="3.6"/><circle cx="111.75" cy="435.50" r="3.6"/><circle cx="116.25" cy="434.75" r="3.6"/><circle cx="137.50" cy="437.50" r="3.6"/><circle cx="52.50" cy="461.75" r="3.6"/><circle cx="57.50" cy="458.25" r="3.6"/><circle cx="63.75" cy="448.75" r="3.6"/><circle cx="98.75" cy="450.00" r="3.6"/><circle cx="100.50" cy="453.75" r="3.6"/><circle cx="104.25" cy="455.75" r="3.6"/><circle cx="141.75" cy="455.25" r="3.6"/><circle cx="118.75" cy="464.50" r="3.6"/><circle cx="122.50" cy="478.00" r="3.6"/><circle cx="128.25" cy="477.50" r="3.6"/><circle cx="129.75" cy="484.25" r="3.6"/><circle cx="60.75" cy="483.75" r="3.6"/><circle cx="71.75" cy="480.75" r="3.6"/><circle cx="89.25" cy="483.75" r="3.6"/><circle cx="69.25" cy="502.00" r="3.6"/><circle cx="75.50" cy="511.50" r="3.6"/><circle cx="161.75" cy="448.25" r="3.6"/><circle cx="323.75" cy="385.75" r="3.6"/><circle cx="313.75" cy="393.00" r="3.6"/><circle cx="306.25" cy="402.00" r="3.6"/><circle cx="323.75" cy="456.75" r="3.6"/><circle cx="311.75" cy="477.00" r="3.6"/><circle cx="317.50" cy="480.75" r="3.6"/><circle cx="297.25" cy="493.75" r="3.6"/><circle cx="334.00" cy="486.25" r="3.6"/><circle cx="321.25" cy="511.50" r="3.6"/><circle cx="198.75" cy="448.00" r="3.6"/><circle cx="208.75" cy="448.75" r="3.6"/><circle cx="240.00" cy="450.00" r="3.6"/><circle cx="217.50" cy="448.75" r="3.6"/><circle cx="267.50" cy="445.00" r="3.6"/><circle cx="282.50" cy="447.50" r="3.6"/><circle cx="363.75" cy="406.00" r="3.6"/><circle cx="392.50" cy="419.75" r="3.6"/><circle cx="400.75" cy="427.00" r="3.6"/><circle cx="397.50" cy="430.75" r="3.6"/><circle cx="386.00" cy="431.75" r="3.6"/><circle cx="408.25" cy="430.75" r="3.6"/><circle cx="344.25" cy="429.00" r="3.6"/><circle cx="453.25" cy="427.00" r="3.6"/><circle cx="474.50" cy="430.75" r="3.6"/><circle cx="497.75" cy="406.75" r="3.6"/><circle cx="444.00" cy="437.25" r="3.6"/><circle cx="340.50" cy="451.25" r="3.6"/><circle cx="357.25" cy="461.50" r="3.6"/><circle cx="395.25" cy="457.75" r="3.6"/><circle cx="380.50" cy="470.75" r="3.6"/><circle cx="374.00" cy="520.50" r="3.6"/><circle cx="434.50" cy="466.00" r="3.6"/><circle cx="437.25" cy="460.50" r="3.6"/><circle cx="456.00" cy="459.50" r="3.6"/><circle cx="479.00" cy="453.00" r="3.6"/><circle cx="403.50" cy="450.25" r="3.6"/><circle cx="544.75" cy="384.75" r="3.6"/><circle cx="561.25" cy="425.25" r="3.6"/><circle cx="605.75" cy="429.00" r="3.6"/><circle cx="524.25" cy="432.75" r="3.6"/><circle cx="543.75" cy="434.50" r="3.6"/><circle cx="512.25" cy="437.50" r="3.6"/><circle cx="516.25" cy="450.25" r="3.6"/><circle cx="522.50" cy="449.50" r="3.6"/><circle cx="528.75" cy="448.50" r="3.6"/><circle cx="537.25" cy="455.00" r="3.6"/><circle cx="541.00" cy="468.75" r="3.6"/><circle cx="509.50" cy="468.00" r="3.6"/><circle cx="612.25" cy="470.75" r="3.6"/><circle cx="641.75" cy="522.50" r="3.6"/><circle cx="567.75" cy="450.25" r="3.6"/><circle cx="576.00" cy="443.00" r="3.6"/><circle cx="583.50" cy="442.00" r="3.6"/><circle cx="599.25" cy="441.00" r="3.6"/><circle cx="619.50" cy="441.00" r="3.6"/><circle cx="627.00" cy="441.00" r="3.6"/><circle cx="647.50" cy="440.00" r="3.6"/><circle cx="655.75" cy="441.00" r="3.6"/><circle cx="661.25" cy="442.00" r="3.6"/><circle cx="672.50" cy="433.30" r="3.6"/><circle cx="675.80" cy="435.80" r="3.6"/><circle cx="693.30" cy="438.30" r="3.6"/><circle cx="696.70" cy="440.80" r="3.6"/><circle cx="686.20" cy="443.70" r="3.6"/><circle cx="668.30" cy="446.70" r="3.6"/><circle cx="391.66" cy="442.73" r="3.6"/><circle cx="591.74" cy="443.53" r="3.6"/><circle cx="482.75" cy="444.71" r="3.6"/><circle cx="193.12" cy="443.40" r="3.6"/><circle cx="67.93" cy="443.95" r="3.6"/><circle cx="117.77" cy="441.73" r="3.6"/><circle cx="279.93" cy="447.37" r="3.6"/><circle cx="189.27" cy="441.26" r="3.6"/><circle cx="128.75" cy="446.33" r="3.6"/><circle cx="434.03" cy="442.08" r="3.6"/><circle cx="95.56" cy="447.03" r="3.6"/><circle cx="281.63" cy="444.90" r="3.6"/><circle cx="86.12" cy="446.75" r="3.6"/><circle cx="490.10" cy="442.31" r="3.6"/><circle cx="92.39" cy="444.15" r="3.6"/><circle cx="523.98" cy="442.90" r="3.6"/><circle cx="297.39" cy="441.98" r="3.6"/><circle cx="559.37" cy="446.18" r="3.6"/><circle cx="194.39" cy="445.62" r="3.6"/><circle cx="178.09" cy="445.73" r="3.6"/><circle cx="106.64" cy="444.01" r="3.6"/><circle cx="157.78" cy="444.26" r="3.6"/><circle cx="218.84" cy="442.23" r="3.6"/><circle cx="206.64" cy="447.41" r="3.6"/><circle cx="323.05" cy="444.57" r="3.6"/><circle cx="56.06" cy="445.59" r="3.6"/><circle cx="184.75" cy="447.48" r="3.6"/><circle cx="351.28" cy="443.98" r="3.6"/><circle cx="150.96" cy="438.60" r="3.6"/><circle cx="104.88" cy="444.49" r="3.6"/><circle cx="499.68" cy="441.05" r="3.6"/><circle cx="508.38" cy="444.76" r="3.6"/><circle cx="263.77" cy="439.94" r="3.6"/><circle cx="590.27" cy="443.45" r="3.6"/><circle cx="235.86" cy="445.46" r="3.6"/><circle cx="398.33" cy="440.33" r="3.6"/><circle cx="270.20" cy="443.14" r="3.6"/><circle cx="117.92" cy="444.26" r="3.6"/><circle cx="85.18" cy="443.49" r="3.6"/><circle cx="136.44" cy="441.76" r="3.6"/><circle cx="92.80" cy="446.23" r="3.6"/><circle cx="417.48" cy="439.52" r="3.6"/><circle cx="202.19" cy="443.70" r="3.6"/><circle cx="300.54" cy="445.60" r="3.6"/><circle cx="133.27" cy="441.83" r="3.6"/><circle cx="298.60" cy="461.50" r="3.6"/><circle cx="531.60" cy="461.10" r="3.6"/><circle cx="537.00" cy="451.30" r="3.6"/></g>
<g fill="#A02B93"><circle cx="48.00" cy="501.75" r="3.6"/><circle cx="48.75" cy="453.25" r="3.6"/><circle cx="68.75" cy="436.25" r="3.6"/><circle cx="75.50" cy="434.75" r="3.6"/><circle cx="128.00" cy="434.75" r="3.6"/><circle cx="122.50" cy="437.50" r="3.6"/><circle cx="135.00" cy="450.00" r="3.6"/><circle cx="177.50" cy="480.00" r="3.6"/><circle cx="211.25" cy="388.00" r="3.6"/><circle cx="292.50" cy="425.25" r="3.6"/><circle cx="177.50" cy="479.50" r="3.6"/><circle cx="188.25" cy="477.00" r="3.6"/><circle cx="199.25" cy="482.75" r="3.6"/><circle cx="201.25" cy="467.50" r="3.6"/><circle cx="265.75" cy="454.25" r="3.6"/><circle cx="268.25" cy="437.50" r="3.6"/><circle cx="291.75" cy="436.25" r="3.6"/><circle cx="300.75" cy="434.50" r="3.6"/><circle cx="311.75" cy="438.00" r="3.6"/><circle cx="321.25" cy="435.00" r="3.6"/><circle cx="306.25" cy="449.25" r="3.6"/><circle cx="437.25" cy="421.50" r="3.6"/><circle cx="423.50" cy="479.75" r="3.6"/><circle cx="420.75" cy="455.75" r="3.6"/><circle cx="430.00" cy="460.50" r="3.6"/><circle cx="437.25" cy="454.00" r="3.6"/><circle cx="340.50" cy="437.25" r="3.6"/><circle cx="374.00" cy="437.25" r="3.6"/><circle cx="363.75" cy="447.50" r="3.6"/><circle cx="610.40" cy="412.50" r="3.6"/><circle cx="553.00" cy="423.50" r="3.6"/><circle cx="578.00" cy="428.00" r="3.6"/><circle cx="633.40" cy="431.00" r="3.6"/><circle cx="530.75" cy="435.50" r="3.6"/><circle cx="584.50" cy="437.25" r="3.6"/><circle cx="591.75" cy="434.70" r="3.6"/><circle cx="562.25" cy="455.00" r="3.6"/><circle cx="569.50" cy="457.75" r="3.6"/><circle cx="575.25" cy="453.00" r="3.6"/><circle cx="543.75" cy="451.25" r="3.6"/><circle cx="653.70" cy="449.50" r="3.6"/><circle cx="599.25" cy="446.40" r="3.6"/><circle cx="605.50" cy="446.60" r="3.6"/><circle cx="627.00" cy="448.00" r="3.6"/><circle cx="696.30" cy="382.80" r="3.6"/><circle cx="686.20" cy="432.50" r="3.6"/><circle cx="692.50" cy="450.30" r="3.6"/><circle cx="611.70" cy="442.20" r="3.6"/><circle cx="620.00" cy="445.00" r="3.6"/><circle cx="637.50" cy="441.70" r="3.6"/><circle cx="641.70" cy="444.20" r="3.6"/><circle cx="645.80" cy="442.20" r="3.6"/><circle cx="655.80" cy="442.20" r="3.6"/><circle cx="661.70" cy="443.70" r="3.6"/><circle cx="665.80" cy="443.70" r="3.6"/><circle cx="670.00" cy="443.70" r="3.6"/><circle cx="674.20" cy="443.70" r="3.6"/><circle cx="45.55" cy="444.49" r="3.6"/><circle cx="47.57" cy="443.03" r="3.6"/><circle cx="49.56" cy="443.77" r="3.6"/><circle cx="50.77" cy="444.06" r="3.6"/><circle cx="52.86" cy="444.15" r="3.6"/><circle cx="54.97" cy="443.10" r="3.6"/><circle cx="57.01" cy="444.08" r="3.6"/><circle cx="58.41" cy="444.04" r="3.6"/><circle cx="60.88" cy="444.75" r="3.6"/><circle cx="62.45" cy="445.36" r="3.6"/><circle cx="64.68" cy="444.28" r="3.6"/><circle cx="67.10" cy="441.64" r="3.6"/><circle cx="69.19" cy="443.64" r="3.6"/><circle cx="71.26" cy="445.18" r="3.6"/><circle cx="72.79" cy="443.07" r="3.6"/><circle cx="75.58" cy="445.52" r="3.6"/><circle cx="77.17" cy="446.04" r="3.6"/><circle cx="78.45" cy="445.72" r="3.6"/><circle cx="81.15" cy="441.38" r="3.6"/><circle cx="83.28" cy="444.41" r="3.6"/><circle cx="85.03" cy="443.34" r="3.6"/><circle cx="87.01" cy="445.48" r="3.6"/><circle cx="89.39" cy="441.77" r="3.6"/><circle cx="91.10" cy="445.88" r="3.6"/><circle cx="93.23" cy="442.68" r="3.6"/><circle cx="94.68" cy="444.89" r="3.6"/><circle cx="96.83" cy="444.26" r="3.6"/><circle cx="98.53" cy="445.08" r="3.6"/><circle cx="101.15" cy="442.45" r="3.6"/><circle cx="103.15" cy="443.37" r="3.6"/><circle cx="104.40" cy="442.52" r="3.6"/><circle cx="107.36" cy="444.08" r="3.6"/><circle cx="109.04" cy="442.33" r="3.6"/><circle cx="111.19" cy="446.34" r="3.6"/><circle cx="112.70" cy="445.09" r="3.6"/><circle cx="114.49" cy="443.86" r="3.6"/><circle cx="116.65" cy="446.51" r="3.6"/><circle cx="119.29" cy="445.83" r="3.6"/><circle cx="120.86" cy="443.83" r="3.6"/><circle cx="122.97" cy="443.06" r="3.6"/><circle cx="125.14" cy="441.76" r="3.6"/><circle cx="127.17" cy="444.85" r="3.6"/><circle cx="128.70" cy="444.50" r="3.6"/><circle cx="131.29" cy="443.45" r="3.6"/><circle cx="132.41" cy="445.93" r="3.6"/><circle cx="134.47" cy="443.84" r="3.6"/><circle cx="137.23" cy="446.32" r="3.6"/><circle cx="139.21" cy="443.64" r="3.6"/><circle cx="140.96" cy="445.85" r="3.6"/><circle cx="142.96" cy="446.44" r="3.6"/><circle cx="144.64" cy="446.25" r="3.6"/><circle cx="147.57" cy="444.36" r="3.6"/><circle cx="148.95" cy="443.99" r="3.6"/><circle cx="151.38" cy="445.71" r="3.6"/><circle cx="152.72" cy="443.77" r="3.6"/><circle cx="154.65" cy="445.07" r="3.6"/><circle cx="157.10" cy="443.75" r="3.6"/><circle cx="158.57" cy="441.30" r="3.6"/><circle cx="159.56" cy="443.63" r="3.6"/><circle cx="162.38" cy="442.75" r="3.6"/><circle cx="164.24" cy="443.78" r="3.6"/><circle cx="165.68" cy="444.40" r="3.6"/><circle cx="167.43" cy="443.44" r="3.6"/><circle cx="169.40" cy="443.19" r="3.6"/><circle cx="171.76" cy="443.88" r="3.6"/><circle cx="173.57" cy="443.56" r="3.6"/><circle cx="176.41" cy="444.28" r="3.6"/><circle cx="177.40" cy="443.86" r="3.6"/><circle cx="179.54" cy="442.75" r="3.6"/><circle cx="182.51" cy="443.55" r="3.6"/><circle cx="183.75" cy="442.75" r="3.6"/><circle cx="185.85" cy="442.75" r="3.6"/><circle cx="188.11" cy="444.95" r="3.6"/><circle cx="189.83" cy="443.42" r="3.6"/><circle cx="191.46" cy="444.06" r="3.6"/><circle cx="193.52" cy="444.10" r="3.6"/><circle cx="196.52" cy="443.43" r="3.6"/><circle cx="197.70" cy="443.78" r="3.6"/><circle cx="199.63" cy="444.56" r="3.6"/><circle cx="201.85" cy="444.95" r="3.6"/><circle cx="204.37" cy="443.51" r="3.6"/><circle cx="206.16" cy="444.95" r="3.6"/><circle cx="208.06" cy="443.11" r="3.6"/><circle cx="210.26" cy="444.78" r="3.6"/><circle cx="211.94" cy="444.15" r="3.6"/><circle cx="214.30" cy="443.55" r="3.6"/><circle cx="215.46" cy="443.46" r="3.6"/><circle cx="218.51" cy="444.32" r="3.6"/><circle cx="219.81" cy="444.34" r="3.6"/><circle cx="221.76" cy="443.74" r="3.6"/><circle cx="223.71" cy="442.75" r="3.6"/><circle cx="226.19" cy="443.61" r="3.6"/><circle cx="227.87" cy="444.58" r="3.6"/><circle cx="229.60" cy="444.07" r="3.6"/><circle cx="232.49" cy="444.20" r="3.6"/><circle cx="234.00" cy="444.09" r="3.6"/><circle cx="236.60" cy="444.95" r="3.6"/><circle cx="237.94" cy="444.10" r="3.6"/><circle cx="239.51" cy="444.15" r="3.6"/><circle cx="241.81" cy="444.22" r="3.6"/><circle cx="243.71" cy="444.09" r="3.6"/><circle cx="246.08" cy="444.61" r="3.6"/><circle cx="247.90" cy="443.20" r="3.6"/><circle cx="249.90" cy="443.27" r="3.6"/><circle cx="251.81" cy="443.76" r="3.6"/><circle cx="253.47" cy="443.58" r="3.6"/><circle cx="255.55" cy="444.95" r="3.6"/><circle cx="258.00" cy="443.03" r="3.6"/><circle cx="259.66" cy="442.98" r="3.6"/><circle cx="261.73" cy="443.86" r="3.6"/><circle cx="263.94" cy="444.46" r="3.6"/><circle cx="266.54" cy="444.56" r="3.6"/><circle cx="267.43" cy="442.86" r="3.6"/><circle cx="269.44" cy="443.53" r="3.6"/><circle cx="271.97" cy="442.75" r="3.6"/><circle cx="274.10" cy="444.45" r="3.6"/><circle cx="276.51" cy="443.85" r="3.6"/><circle cx="278.39" cy="444.84" r="3.6"/><circle cx="279.70" cy="442.75" r="3.6"/><circle cx="281.53" cy="444.26" r="3.6"/><circle cx="284.22" cy="444.45" r="3.6"/><circle cx="286.53" cy="443.70" r="3.6"/><circle cx="288.32" cy="443.00" r="3.6"/><circle cx="289.95" cy="443.69" r="3.6"/><circle cx="292.34" cy="443.80" r="3.6"/><circle cx="293.68" cy="444.61" r="3.6"/><circle cx="295.76" cy="443.43" r="3.6"/><circle cx="297.55" cy="443.84" r="3.6"/><circle cx="300.24" cy="446.38" r="3.6"/><circle cx="302.13" cy="445.86" r="3.6"/><circle cx="305.30" cy="444.93" r="3.6"/><circle cx="307.67" cy="444.46" r="3.6"/><circle cx="309.81" cy="446.24" r="3.6"/><circle cx="312.76" cy="440.70" r="3.6"/><circle cx="315.77" cy="445.09" r="3.6"/><circle cx="318.66" cy="442.94" r="3.6"/><circle cx="320.50" cy="444.28" r="3.6"/><circle cx="323.95" cy="443.71" r="3.6"/><circle cx="325.43" cy="442.78" r="3.6"/><circle cx="328.60" cy="443.34" r="3.6"/><circle cx="330.91" cy="442.61" r="3.6"/><circle cx="334.00" cy="445.12" r="3.6"/><circle cx="335.84" cy="443.58" r="3.6"/><circle cx="338.81" cy="441.97" r="3.6"/><circle cx="341.24" cy="445.26" r="3.6"/><circle cx="344.56" cy="443.97" r="3.6"/><circle cx="346.45" cy="442.21" r="3.6"/><circle cx="349.96" cy="442.98" r="3.6"/><circle cx="351.68" cy="446.84" r="3.6"/><circle cx="354.27" cy="444.19" r="3.6"/><circle cx="357.74" cy="442.77" r="3.6"/><circle cx="359.79" cy="444.54" r="3.6"/><circle cx="362.30" cy="445.15" r="3.6"/><circle cx="365.20" cy="444.95" r="3.6"/><circle cx="367.47" cy="443.82" r="3.6"/><circle cx="369.86" cy="444.97" r="3.6"/><circle cx="372.26" cy="443.96" r="3.6"/><circle cx="374.87" cy="441.42" r="3.6"/><circle cx="378.46" cy="446.22" r="3.6"/><circle cx="380.88" cy="447.50" r="3.6"/><circle cx="383.00" cy="444.04" r="3.6"/><circle cx="385.42" cy="446.54" r="3.6"/><circle cx="387.84" cy="443.06" r="3.6"/><circle cx="391.20" cy="442.98" r="3.6"/><circle cx="393.40" cy="445.17" r="3.6"/><circle cx="395.80" cy="445.40" r="3.6"/><circle cx="398.62" cy="444.12" r="3.6"/><circle cx="401.95" cy="447.04" r="3.6"/><circle cx="403.65" cy="447.00" r="3.6"/><circle cx="406.43" cy="445.39" r="3.6"/><circle cx="409.12" cy="441.42" r="3.6"/><circle cx="411.26" cy="442.58" r="3.6"/><circle cx="414.90" cy="444.36" r="3.6"/><circle cx="416.63" cy="441.86" r="3.6"/><circle cx="440.44" cy="445.97" r="3.6"/><circle cx="443.29" cy="444.91" r="3.6"/><circle cx="445.25" cy="442.46" r="3.6"/><circle cx="447.64" cy="446.40" r="3.6"/><circle cx="450.31" cy="445.15" r="3.6"/><circle cx="453.30" cy="445.00" r="3.6"/><circle cx="455.13" cy="443.60" r="3.6"/><circle cx="458.35" cy="443.56" r="3.6"/><circle cx="460.46" cy="443.62" r="3.6"/><circle cx="462.38" cy="444.18" r="3.6"/><circle cx="465.31" cy="444.29" r="3.6"/><circle cx="467.90" cy="442.44" r="3.6"/><circle cx="469.23" cy="442.23" r="3.6"/><circle cx="471.88" cy="442.00" r="3.6"/><circle cx="475.14" cy="444.63" r="3.6"/><circle cx="476.86" cy="444.19" r="3.6"/><circle cx="479.39" cy="445.37" r="3.6"/><circle cx="482.31" cy="445.01" r="3.6"/><circle cx="484.49" cy="446.01" r="3.6"/><circle cx="486.99" cy="444.41" r="3.6"/><circle cx="488.79" cy="442.71" r="3.6"/><circle cx="491.18" cy="442.96" r="3.6"/><circle cx="493.29" cy="445.67" r="3.6"/><circle cx="495.84" cy="444.22" r="3.6"/><circle cx="498.08" cy="443.37" r="3.6"/><circle cx="500.44" cy="443.28" r="3.6"/><circle cx="503.98" cy="443.88" r="3.6"/><circle cx="506.26" cy="445.06" r="3.6"/><circle cx="507.70" cy="444.13" r="3.6"/><circle cx="510.12" cy="442.47" r="3.6"/><circle cx="512.94" cy="444.22" r="3.6"/><circle cx="515.08" cy="442.87" r="3.6"/><circle cx="518.01" cy="444.96" r="3.6"/><circle cx="520.50" cy="445.13" r="3.6"/><circle cx="522.15" cy="442.87" r="3.6"/><circle cx="525.41" cy="443.81" r="3.6"/><circle cx="527.25" cy="445.57" r="3.6"/><circle cx="530.09" cy="444.46" r="3.6"/><circle cx="531.89" cy="444.99" r="3.6"/><circle cx="534.18" cy="445.28" r="3.6"/><circle cx="536.79" cy="443.24" r="3.6"/><circle cx="539.28" cy="445.51" r="3.6"/><circle cx="541.48" cy="444.14" r="3.6"/><circle cx="544.57" cy="442.27" r="3.6"/><circle cx="546.12" cy="442.00" r="3.6"/><circle cx="548.97" cy="445.09" r="3.6"/><circle cx="551.90" cy="442.29" r="3.6"/><circle cx="553.25" cy="444.05" r="3.6"/><circle cx="427.50" cy="441.70" r="3.6"/><circle cx="434.20" cy="445.80" r="3.6"/><circle cx="562.50" cy="442.50" r="3.6"/><circle cx="566.70" cy="443.30" r="3.6"/><circle cx="584.20" cy="437.50" r="3.6"/></g>
<text class="s" x="42.6" y="466.0" text-anchor="middle" font-size="12.4" fill="#595959">0</text>
<text class="s" x="167.2" y="466.0" text-anchor="middle" font-size="12.4" fill="#595959">10000</text>
<text class="s" x="291.3" y="466.0" text-anchor="middle" font-size="12.4" fill="#595959">20000</text>
<text class="s" x="414.75" y="466.0" text-anchor="middle" font-size="12.4" fill="#595959">30000</text>
<text class="s" x="538.5" y="466.0" text-anchor="middle" font-size="12.4" fill="#595959">40000</text>
<text class="s" x="662.8" y="466.0" text-anchor="middle" font-size="12.4" fill="#595959">50000</text>
<line x1="125.4" y1="585.5" x2="153.6" y2="585.5" stroke="#156082" stroke-width="1.8" stroke-linecap="round"/>
<circle cx="139.5" cy="585.5" r="3.5" fill="#156082"/>
<text class="s" x="158.2" y="588.9" text-anchor="start" font-size="12.4" fill="#595959" textLength="48.2" lengthAdjust="spacingAndGlyphs">Tr1 (195)</text>
<line x1="226.4" y1="585.5" x2="254.6" y2="585.5" stroke="#E96F2E" stroke-width="1.8" stroke-linecap="round"/>
<circle cx="240.5" cy="585.5" r="3.5" fill="#E96F2E"/>
<text class="s" x="258.8" y="588.9" text-anchor="start" font-size="12.4" fill="#595959" textLength="48.5" lengthAdjust="spacingAndGlyphs">Tr2 (182)</text>
<line x1="326.7" y1="585.5" x2="354.90000000000003" y2="585.5" stroke="#196B24" stroke-width="1.8" stroke-linecap="round"/>
<circle cx="340.8" cy="585.5" r="3.5" fill="#196B24"/>
<text class="s" x="359.5" y="588.9" text-anchor="start" font-size="12.4" fill="#595959" textLength="48.7" lengthAdjust="spacingAndGlyphs">Tr3 (191)</text>
<line x1="426.9" y1="585.5" x2="455.1" y2="585.5" stroke="#0F9ED5" stroke-width="1.8" stroke-linecap="round"/>
<circle cx="441.0" cy="585.5" r="3.5" fill="#0F9ED5"/>
<text class="s" x="459.6" y="588.9" text-anchor="start" font-size="12.4" fill="#595959" textLength="46.7" lengthAdjust="spacingAndGlyphs">Tr4(182)</text>
<line x1="526.6999999999999" y1="585.5" x2="554.9" y2="585.5" stroke="#A02B93" stroke-width="1.8" stroke-linecap="round"/>
<circle cx="540.8" cy="585.5" r="3.5" fill="#A02B93"/>
<text class="s" x="558.8" y="588.9" text-anchor="start" font-size="12.4" fill="#595959" textLength="48.8" lengthAdjust="spacingAndGlyphs">Tr5 (202)</text>
<text class="r" y="622.9" font-size="17" fill="#1a1a1a"><tspan x="310.7" textLength="23.5" lengthAdjust="spacingAndGlyphs">(b)</tspan> <tspan x="340.0" textLength="26.8" lengthAdjust="spacingAndGlyphs">Pig</tspan> <tspan x="372.5" textLength="39.7" lengthAdjust="spacingAndGlyphs">data.</tspan></text>
<line x1="43.5" y1="659.5" x2="706.5" y2="659.5" stroke="#D9D9D9" stroke-width="1"/>
<line x1="43.5" y1="680.75" x2="706.5" y2="680.75" stroke="#D9D9D9" stroke-width="1"/>
<line x1="43.5" y1="702.0" x2="706.5" y2="702.0" stroke="#D9D9D9" stroke-width="1"/>
<line x1="43.5" y1="723.25" x2="706.5" y2="723.25" stroke="#D9D9D9" stroke-width="1"/>
<line x1="43.5" y1="744.5" x2="706.5" y2="744.5" stroke="#D9D9D9" stroke-width="1"/>
<line x1="43.5" y1="765.75" x2="706.5" y2="765.75" stroke="#C8C8C8" stroke-width="1.4"/>
<line x1="43.5" y1="787.0" x2="706.5" y2="787.0" stroke="#D9D9D9" stroke-width="1"/>
<line x1="43.5" y1="808.25" x2="706.5" y2="808.25" stroke="#D9D9D9" stroke-width="1"/>
<line x1="43.5" y1="829.5" x2="706.5" y2="829.5" stroke="#D9D9D9" stroke-width="1"/>
<line x1="43.5" y1="850.75" x2="706.5" y2="850.75" stroke="#D9D9D9" stroke-width="1"/>
<line x1="43.5" y1="872.0" x2="706.5" y2="872.0" stroke="#D9D9D9" stroke-width="1"/>
<line x1="145.75" y1="659.5" x2="145.75" y2="872" stroke="#D9D9D9" stroke-width="1"/>
<line x1="248" y1="659.5" x2="248" y2="872" stroke="#D9D9D9" stroke-width="1"/>
<line x1="350" y1="659.5" x2="350" y2="872" stroke="#D9D9D9" stroke-width="1"/>
<line x1="452" y1="659.5" x2="452" y2="872" stroke="#D9D9D9" stroke-width="1"/>
<line x1="554" y1="659.5" x2="554" y2="872" stroke="#D9D9D9" stroke-width="1"/>
<line x1="655.8" y1="659.5" x2="655.8" y2="872" stroke="#D9D9D9" stroke-width="1"/>
<line x1="43.5" y1="659.5" x2="43.5" y2="872" stroke="#D2D2D2" stroke-width="1"/>
<text class="s" x="31.8" y="663.0" text-anchor="end" font-size="12.4" fill="#595959">0.05</text>
<text class="s" x="31.8" y="684.25" text-anchor="end" font-size="12.4" fill="#595959">0.04</text>
<text class="s" x="31.8" y="705.5" text-anchor="end" font-size="12.4" fill="#595959">0.03</text>
<text class="s" x="31.8" y="726.75" text-anchor="end" font-size="12.4" fill="#595959">0.02</text>
<text class="s" x="31.8" y="748.0" text-anchor="end" font-size="12.4" fill="#595959">0.01</text>
<text class="s" x="31.8" y="769.25" text-anchor="end" font-size="12.4" fill="#595959">0</text>
<text class="s" x="31.8" y="790.5" text-anchor="end" font-size="12.4" fill="#595959">-0.01</text>
<text class="s" x="31.8" y="811.75" text-anchor="end" font-size="12.4" fill="#595959">-0.02</text>
<text class="s" x="31.8" y="833.0" text-anchor="end" font-size="12.4" fill="#595959">-0.03</text>
<text class="s" x="31.8" y="854.25" text-anchor="end" font-size="12.4" fill="#595959">-0.04</text>
<text class="s" x="31.8" y="875.5" text-anchor="end" font-size="12.4" fill="#595959">-0.05</text>
<g fill="#156082"><circle cx="96.25" cy="763.00" r="3.5"/><circle cx="166.50" cy="742.75" r="3.5"/><circle cx="241.25" cy="743.50" r="3.5"/><circle cx="201.25" cy="765.00" r="3.5"/><circle cx="311.50" cy="769.25" r="3.5"/><circle cx="283.25" cy="833.25" r="3.5"/><circle cx="382.75" cy="700.50" r="3.5"/><circle cx="432.75" cy="762.00" r="3.5"/><circle cx="490.50" cy="765.50" r="3.5"/><circle cx="360.00" cy="817.50" r="3.5"/><circle cx="600.75" cy="762.75" r="3.5"/><circle cx="644.90" cy="790.40" r="3.5"/><circle cx="561.25" cy="797.00" r="3.5"/><circle cx="683.50" cy="785.00" r="3.5"/><circle cx="683.50" cy="765.00" r="3.5"/></g>
<g fill="#E96F2E"><circle cx="166.50" cy="788.50" r="3.5"/><circle cx="283.25" cy="724.25" r="3.5"/><circle cx="201.25" cy="763.00" r="3.5"/><circle cx="311.50" cy="763.50" r="3.5"/><circle cx="436.25" cy="778.50" r="3.5"/><circle cx="484.75" cy="758.25" r="3.5"/><circle cx="360.00" cy="824.00" r="3.5"/><circle cx="382.75" cy="822.75" r="3.5"/><circle cx="599.00" cy="769.00" r="3.5"/><circle cx="561.25" cy="793.50" r="3.5"/><circle cx="683.50" cy="766.10" r="3.5"/></g>
<g fill="#196B24"><circle cx="95.00" cy="743.50" r="3.5"/><circle cx="201.25" cy="767.50" r="3.5"/><circle cx="331.00" cy="787.50" r="3.5"/><circle cx="248.25" cy="814.75" r="3.5"/><circle cx="282.50" cy="815.75" r="3.5"/><circle cx="360.00" cy="703.25" r="3.5"/><circle cx="459.25" cy="731.50" r="3.5"/><circle cx="426.75" cy="762.75" r="3.5"/><circle cx="496.00" cy="765.50" r="3.5"/><circle cx="382.75" cy="795.50" r="3.5"/><circle cx="604.25" cy="675.00" r="3.5"/><circle cx="644.90" cy="727.80" r="3.5"/><circle cx="561.25" cy="858.00" r="3.5"/><circle cx="683.50" cy="763.00" r="3.5"/></g>
<g fill="#0F9ED5"><circle cx="248.25" cy="699.75" r="3.5"/><circle cx="282.50" cy="732.25" r="3.5"/><circle cx="201.25" cy="764.50" r="3.5"/><circle cx="331.00" cy="768.25" r="3.5"/><circle cx="360.00" cy="685.50" r="3.5"/><circle cx="382.75" cy="724.25" r="3.5"/><circle cx="490.00" cy="786.50" r="3.5"/><circle cx="644.90" cy="765.70" r="3.5"/><circle cx="616.75" cy="809.50" r="3.5"/><circle cx="561.25" cy="802.50" r="3.5"/><circle cx="683.50" cy="764.80" r="3.5"/></g>
<text class="s" x="43.3" y="786.75" text-anchor="middle" font-size="12.4" fill="#595959">0</text>
<text class="s" x="145.55" y="786.75" text-anchor="middle" font-size="12.4" fill="#595959">200</text>
<text class="s" x="247.8" y="786.75" text-anchor="middle" font-size="12.4" fill="#595959">400</text>
<text class="s" x="349.8" y="786.75" text-anchor="middle" font-size="12.4" fill="#595959">600</text>
<text class="s" x="451.8" y="786.75" text-anchor="middle" font-size="12.4" fill="#595959">800</text>
<text class="s" x="553.8" y="786.75" text-anchor="middle" font-size="12.4" fill="#595959">1000</text>
<text class="s" x="655.5999999999999" y="786.75" text-anchor="middle" font-size="12.4" fill="#595959">1200</text>
<line x1="201.6" y1="900.5" x2="228.7" y2="900.5" stroke="#156082" stroke-width="1.8" stroke-linecap="round"/>
<circle cx="215.14999999999998" cy="900.5" r="3.5" fill="#156082"/>
<text class="s" x="232.5" y="903.9" text-anchor="start" font-size="12.4" fill="#595959" textLength="39.4" lengthAdjust="spacingAndGlyphs">Tr1 (15)</text>
<line x1="288.9" y1="900.5" x2="316.1" y2="900.5" stroke="#E96F2E" stroke-width="1.8" stroke-linecap="round"/>
<circle cx="302.5" cy="900.5" r="3.5" fill="#E96F2E"/>
<text class="s" x="320" y="903.9" text-anchor="start" font-size="12.4" fill="#595959" textLength="39.5" lengthAdjust="spacingAndGlyphs">Tr2 (12)</text>
<line x1="376.4" y1="900.5" x2="404.1" y2="900.5" stroke="#196B24" stroke-width="1.8" stroke-linecap="round"/>
<circle cx="390.25" cy="900.5" r="3.5" fill="#196B24"/>
<text class="s" x="408" y="903.9" text-anchor="start" font-size="12.4" fill="#595959" textLength="39.0" lengthAdjust="spacingAndGlyphs">Tr3 (14)</text>
<line x1="464.15" y1="900.5" x2="491.6" y2="900.5" stroke="#0F9ED5" stroke-width="1.8" stroke-linecap="round"/>
<circle cx="477.875" cy="900.5" r="3.5" fill="#0F9ED5"/>
<text class="s" x="495.75" y="903.9" text-anchor="start" font-size="12.4" fill="#595959" textLength="38.8" lengthAdjust="spacingAndGlyphs">Tr4 (14)</text>
<text class="r" y="942.2" font-size="17" fill="#1a1a1a"><tspan x="299.1" textLength="21.3" lengthAdjust="spacingAndGlyphs">(c)</tspan> <tspan x="326.1" textLength="51.8" lengthAdjust="spacingAndGlyphs">Wheat</tspan> <tspan x="384.5" textLength="39.3" lengthAdjust="spacingAndGlyphs">data.</tspan></text>
</svg>
</body></html>
